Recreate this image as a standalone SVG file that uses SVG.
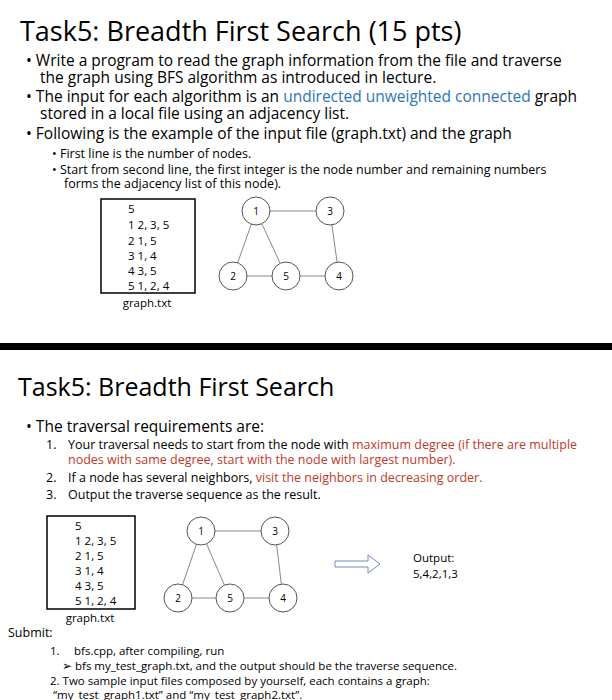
<svg xmlns="http://www.w3.org/2000/svg" width="612" height="700" viewBox="0 0 612 700">
<style>
text{font-family:"Open Sans","Liberation Sans",sans-serif;fill:#000}
.t{font-size:27px}
.b{font-size:15.5px}
.s{font-size:12.5px}
.m{font-size:11.5px}
.red{fill:#c0392b}
.blue{fill:#2e75b6}
.box{fill:#fff;stroke:#000;stroke-width:1.5}
.n circle{fill:#fff;stroke:#555;stroke-width:1}
.n text{font-size:10px;text-anchor:middle}
.e line{stroke:#888;stroke-width:1}
</style>
<rect width="612" height="700" fill="#fff"/>
<text class="t" x="20" y="41">Task5: Breadth First Search (15 pts)</text>
<text class="b" x="26" y="66">• Write a program to read the graph information from the file and traverse</text>
<text class="b" x="40" y="83">the graph using BFS algorithm as introduced in lecture.</text>
<text class="b" x="26" y="102">• The input for each algorithm is an <tspan class="blue">undirected unweighted connected</tspan> graph</text>
<text class="b" x="40" y="119">stored in a local file using an adjacency list.</text>
<text class="b" x="26" y="139">• Following is the example of the input file (graph.txt) and the graph</text>
<text class="s" x="52" y="158">• First line is the number of nodes.</text>
<text class="s" x="52" y="174">• Start from second line, the first integer is the node number and remaining numbers</text>
<text class="s" x="64" y="188">forms the adjacency list of this node).</text>
<g id="file1">
<rect class="box" x="101" y="199" width="94" height="94"/>
<text class="m" x="128" y="213">5</text><text class="m" x="128" y="229">1 2, 3, 5</text><text class="m" x="128" y="245">2 1, 5</text><text class="m" x="128" y="260">3 1, 4</text><text class="m" x="128" y="275">4 3, 5</text><text class="m" x="128" y="290">5 1, 2, 4</text>
<text class="m" x="147" y="307" text-anchor="middle">graph.txt</text>
</g>
<g id="edges1" class="e">
<line x1="256" y1="211" x2="330" y2="211"/><line x1="256" y1="211" x2="233" y2="276"/><line x1="256" y1="211" x2="286" y2="276"/><line x1="330" y1="211" x2="339" y2="276"/><line x1="233" y1="276" x2="286" y2="276"/><line x1="286" y1="276" x2="339" y2="276"/>
</g>
<g id="a1" class="n"><circle cx="256" cy="211" r="14"/><text x="256" y="215">1</text></g>
<g id="a3" class="n"><circle cx="330" cy="211" r="14"/><text x="330" y="215">3</text></g>
<g id="a2" class="n"><circle cx="233" cy="276" r="14"/><text x="233" y="280">2</text></g>
<g id="a5" class="n"><circle cx="286" cy="276" r="14"/><text x="286" y="280">5</text></g>
<g id="a4" class="n"><circle cx="339" cy="276" r="14"/><text x="339" y="280">4</text></g>
<rect x="0" y="343" width="612" height="7" fill="#000"/>
<text x="18" y="396" style="font-size:25px">Task5: Breadth First Search</text>
<text class="b" x="26" y="432">• The traversal requirements are:</text>
<text class="s" x="46" y="449">1.</text><text class="s" x="68" y="449">Your traversal needs to start from the node with <tspan class="red">maximum degree (if there are multiple</tspan></text>
<text class="s red" x="68" y="464">nodes with same degree, start with the node with largest number).</text>
<text class="s" x="46" y="482">2.</text><text class="s" x="68" y="482">If a node has several neighbors, <tspan class="red">visit the neighbors in decreasing order.</tspan></text>
<text class="s" x="46" y="499">3.</text><text class="s" x="68" y="499">Output the traverse sequence as the result.</text>
<g id="file2">
<rect class="box" x="47" y="516" width="88" height="93"/>
<text class="m" x="75" y="530">5</text><text class="m" x="75" y="545">1 2, 3, 5</text><text class="m" x="75" y="560">2 1, 5</text><text class="m" x="75" y="575">3 1, 4</text><text class="m" x="75" y="590">4 3, 5</text><text class="m" x="75" y="605">5 1, 2, 4</text>
<text class="m" x="90" y="622" text-anchor="middle">graph.txt</text>
</g>
<g id="edges2" class="e">
<line x1="201" y1="531" x2="275" y2="531"/><line x1="201" y1="531" x2="178" y2="598"/><line x1="201" y1="531" x2="230" y2="598"/><line x1="275" y1="531" x2="283" y2="598"/><line x1="178" y1="598" x2="230" y2="598"/><line x1="230" y1="598" x2="283" y2="598"/>
</g>
<g id="b1" class="n"><circle cx="201" cy="531" r="14"/><text x="201" y="535">1</text></g>
<g id="b3" class="n"><circle cx="275" cy="531" r="14"/><text x="275" y="535">3</text></g>
<g id="b2" class="n"><circle cx="178" cy="598" r="14"/><text x="178" y="602">2</text></g>
<g id="b5" class="n"><circle cx="230" cy="598" r="14"/><text x="230" y="602">5</text></g>
<g id="b4" class="n"><circle cx="283" cy="598" r="14"/><text x="283" y="602">4</text></g>
<path id="arrow" d="M335,561 H368 V555 L380,564 L368,573 V567 H335 Z" fill="#fff" stroke="#6a8fc0" stroke-width="1"/>
<text class="m" x="413" y="562">Output:</text>
<text class="m" x="413" y="578">5,4,2,1,3</text>
<text class="s" x="8" y="637">Submit:</text>
<text class="m" x="50" y="655">1.</text><text class="m" x="74" y="655">bfs.cpp, after compiling, run</text>
<text class="m" x="62" y="670">➢ bfs  my_test_graph.txt, and the output should be the traverse sequence.</text>
<text class="m" x="50" y="685">2.   Two sample input files composed by yourself, each contains a graph:</text>
<text class="m" x="53" y="699">“my_test_graph1.txt” and “my_test_graph2.txt”.</text>
</svg>
